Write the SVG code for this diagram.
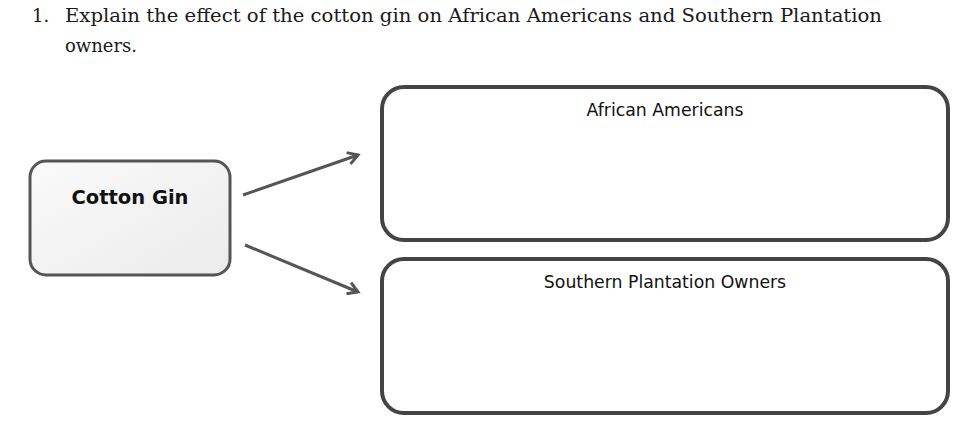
<svg xmlns="http://www.w3.org/2000/svg" width="962" height="424" viewBox="0 0 962 424">
<style>
.q{font-family:"DejaVu Serif","Liberation Serif",serif;font-size:18px;fill:#1a1a1a}
.lbl{font-family:"DejaVu Sans","Noto Sans",sans-serif;fill:#111;text-anchor:middle}
.box{fill:#fff;stroke:#444;stroke-width:4}
.conn{stroke:#555;stroke-width:3;fill:none}
</style>
<defs>
<linearGradient id="g" x1="0" y1="0" x2="1" y2="1">
<stop offset="0" stop-color="#fafafa"/>
<stop offset="1" stop-color="#ebebeb"/>
</linearGradient>
<marker id="ah" markerWidth="14" markerHeight="14" refX="11" refY="7" orient="auto" markerUnits="userSpaceOnUse">
<path d="M1,1 L11,7 L1,13" fill="none" stroke="#555" stroke-width="3"/>
</marker>
</defs>
<text class="q" x="32" y="22">1.</text>
<text class="q" x="65" y="22" textLength="817" lengthAdjust="spacingAndGlyphs">Explain the effect of the cotton gin on African Americans and Southern Plantation</text>
<text class="q" x="65" y="52">owners.</text>
<g id="cotton-gin">
<rect x="30" y="161" width="200" height="114" rx="16" fill="url(#g)" stroke="#555" stroke-width="3"/>
<text class="lbl" x="130" y="204" font-size="19.5" font-weight="bold">Cotton Gin</text>
</g>
<g id="african-americans">
<rect class="box" x="382" y="87" width="566" height="153" rx="22"/>
<text class="lbl" x="665" y="116" font-size="17.3">African Americans</text>
</g>
<g id="plantation-owners">
<rect class="box" x="382" y="259" width="566" height="154" rx="22"/>
<text class="lbl" x="665" y="288" font-size="17.3">Southern Plantation Owners</text>
</g>
<g id="connectors">
<line class="conn" x1="243" y1="195" x2="358" y2="155" marker-end="url(#ah)"/>
<line class="conn" x1="245" y1="245" x2="358" y2="292" marker-end="url(#ah)"/>
</g>
</svg>
